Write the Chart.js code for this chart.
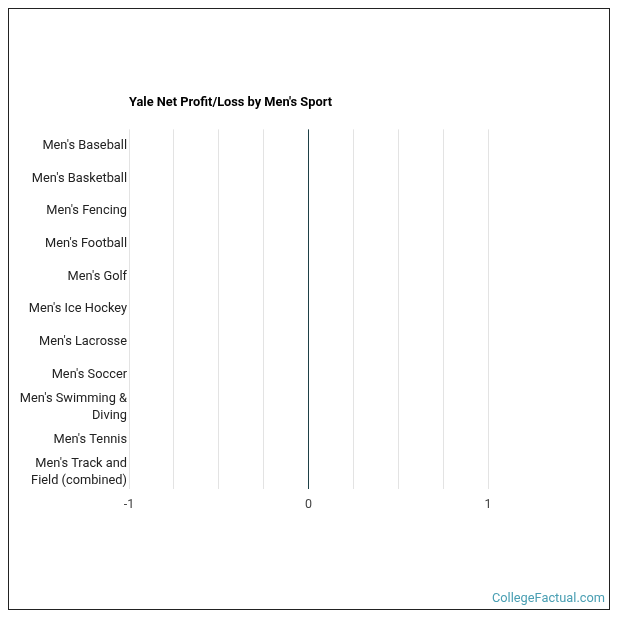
<!DOCTYPE html>
<html>
<head>
<meta charset="utf-8">
<script src="https://cdn.jsdelivr.net/npm/chart.js@4"></script>
<style>
  body { margin: 0; background: #fff; font-family: Roboto, sans-serif; }
  .wrap { position: relative; width: 620px; height: 620px; }
  .frame { position: absolute; left: 8px; top: 8px; border: 1px solid #222; box-sizing: border-box; width: 602px; height: 602px; }
  canvas { position: absolute; left: 0; top: 0; }
  .credit { position: absolute; right: 15px; top: 590px; font-size: 12.8px; color: #4a9fb3; }
</style>
</head>
<body>
<div class="wrap">
  <div class="frame"></div>
  <canvas id="chart" width="620" height="620"></canvas>
  <div class="credit">CollegeFactual.com</div>
</div>
<script>
// Men's sports and their net profit/loss (all reported as zero)
const sports = [
  "Men's Baseball",
  "Men's Basketball",
  "Men's Fencing",
  "Men's Football",
  "Men's Golf",
  "Men's Ice Hockey",
  "Men's Lacrosse",
  "Men's Soccer",
  ["Men's Swimming &", "Diving"],
  "Men's Tennis",
  ["Men's Track and", "Field (combined)"]
];
const netProfit = [0, 0, 0, 0, 0, 0, 0, 0, 0, 0, 0];
const xTickLabels = [-1, 0, 1];

const ctx = document.getElementById('chart');
new Chart(ctx, {
  type: 'bar',
  data: {
    labels: sports,
    datasets: [{
      label: 'Net Profit/Loss',
      data: netProfit,
      backgroundColor: '#1f5f5b',
      borderWidth: 0
    }]
  },
  options: {
    indexAxis: 'y',
    responsive: false,
    animation: false,
    layout: { padding: { top: 95, left: 8, right: 132, bottom: 100 } },
    plugins: {
      legend: { display: false },
      tooltip: { enabled: false },
      title: {
        display: true,
        text: "Yale Net Profit/Loss by Men's Sport",
        align: 'start',
        fullSize: false,
        color: '#000',
        font: { family: 'Roboto', size: 12.8, weight: 'bold' },
        padding: { top: 0, bottom: 19 }
      }
    },
    scales: {
      x: {
        min: -1,
        max: 1,
        ticks: {
          stepSize: 0.25,
          padding: 8,
          color: '#444',
          font: { family: 'Roboto', size: 12.5 },
          callback: (v) => xTickLabels.includes(v) ? String(v) : ''
        },
        grid: {
          drawTicks: false,
          color: (c) => c.tick && c.tick.value === 0 ? '#1e4046' : '#e3e3e3'
        },
        border: { display: false }
      },
      y: {
        afterFit: (scale) => { scale.width = 121; },
        ticks: {
          autoSkip: false,
          padding: 2,
          color: '#222',
          font: { family: 'Roboto', size: 12.8, lineHeight: 1.33 }
        },
        grid: { display: false, drawTicks: false },
        border: { display: false }
      }
    }
  }
});
</script>
</body>
</html>
